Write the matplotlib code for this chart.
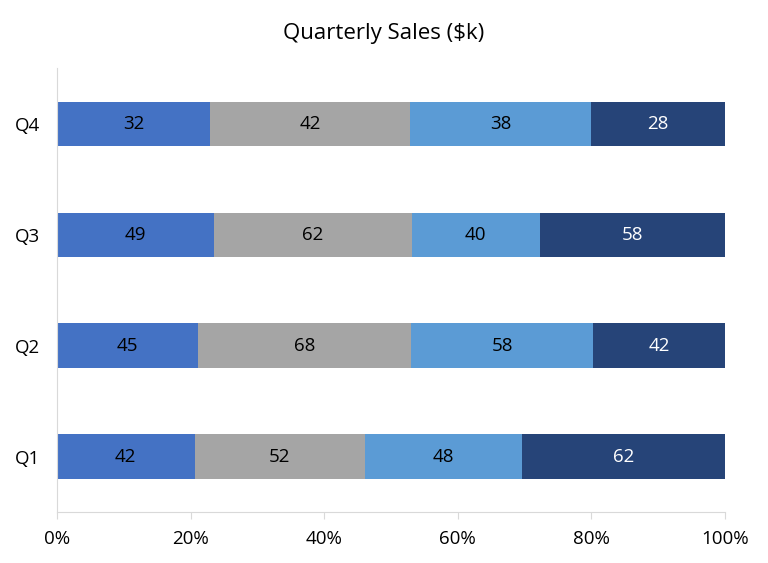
import numpy as np
import matplotlib.pyplot as plt
from matplotlib.ticker import PercentFormatter

plt.rcParams['font.family'] = ['Open Sans', 'DejaVu Sans']

quarters = ['Q1', 'Q2', 'Q3', 'Q4']
series_a = [42, 45, 49, 32]
series_b = [52, 68, 62, 42]
series_c = [48, 58, 40, 38]
series_d = [62, 42, 58, 28]

colors = ['#4472C4', '#A5A5A5', '#5B9BD5', '#264478']
text_colors = ['black', 'black', 'black', 'white']

data = np.array([series_a, series_b, series_c, series_d], dtype=float)
totals = data.sum(axis=0)
shares = data / totals

fig = plt.figure(figsize=(7.68, 5.63), dpi=100)
ax = fig.add_axes([0.0742, 0.0906, 0.8698, 0.788])

y = np.arange(len(quarters))
left = np.zeros(len(quarters))
for i in range(len(data)):
    bars = ax.barh(y, shares[i], left=left, height=0.4, color=colors[i])
    for j in range(len(quarters)):
        ax.text(left[j] + shares[i][j] / 2, y[j], '%d' % data[i][j],
                ha='center', va='center', fontsize=13.5, color=text_colors[i])
    left = left + shares[i]

ax.set_xlim(0, 1)
ax.set_ylim(-0.5, 3.5)
ax.set_yticks(y)
ax.set_yticklabels(quarters)
ax.set_xticks(np.linspace(0, 1, 6))
ax.xaxis.set_major_formatter(PercentFormatter(1.0, decimals=0))
ax.tick_params(axis='both', labelsize=13.5)
ax.tick_params(axis='y', length=0, pad=12)
ax.tick_params(axis='x', length=5, color='#D9D9D9', pad=8)

for s in ['top', 'right']:
    ax.spines[s].set_visible(False)
ax.spines['left'].set_color('#D9D9D9')
ax.spines['bottom'].set_color('#D9D9D9')

fig.suptitle('Quarterly Sales ($k)', y=0.96, fontsize=16)

fig.savefig('out.png', dpi=100)
